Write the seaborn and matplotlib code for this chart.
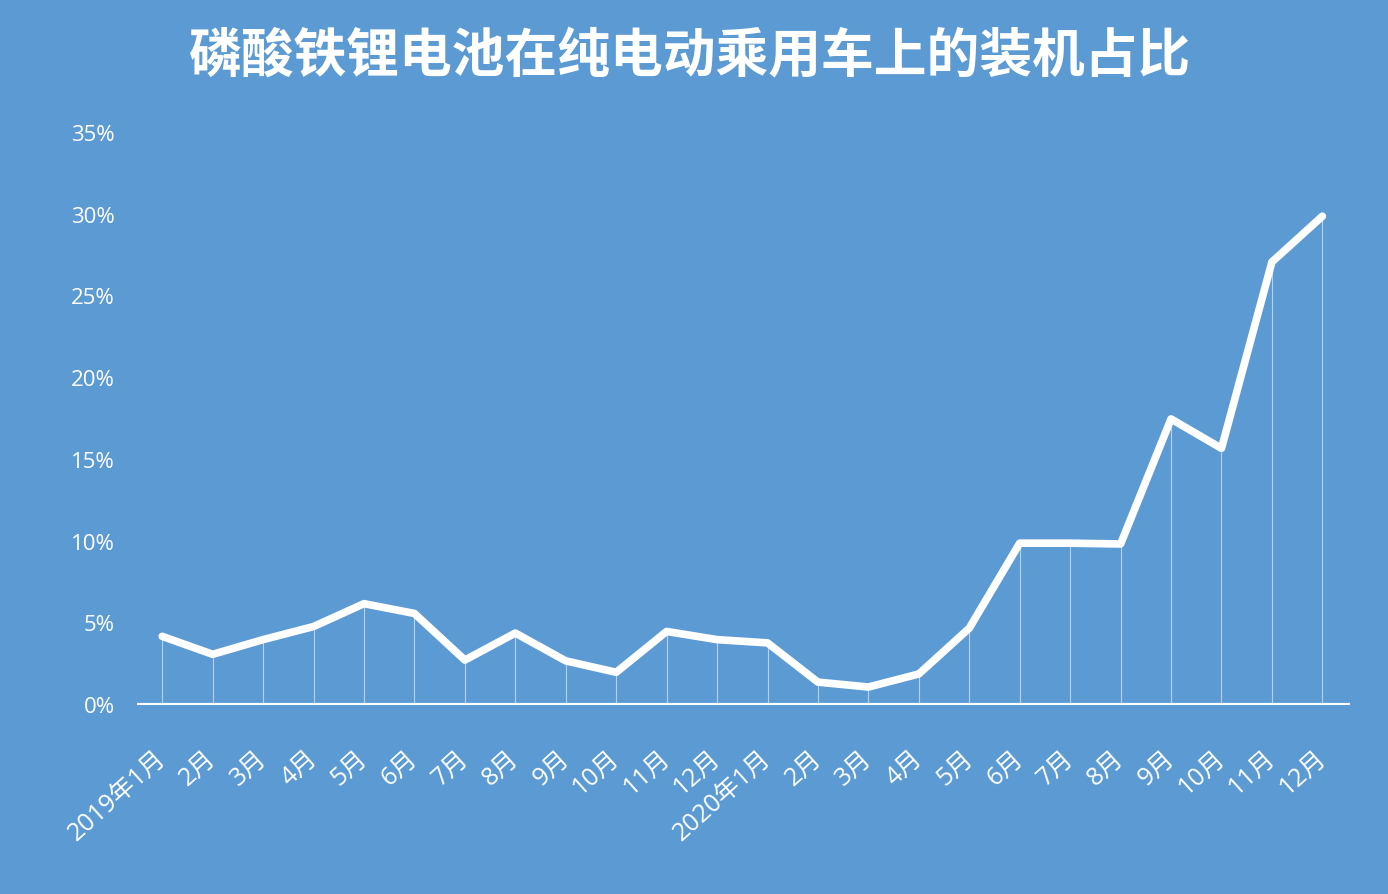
import numpy as np
import pandas as pd
import matplotlib
matplotlib.use('Agg')
import matplotlib.pyplot as plt
import seaborn as sns

# chart data
MONTH_LABELS = ['2019年1月', '2月', '3月', '4月', '5月', '6月', '7月', '8月', '9月', '10月', '11月', '12月',
                '2020年1月', '2月', '3月', '4月', '5月', '6月', '7月', '8月', '9月', '10月', '11月', '12月']
LFP_SHARE = [4.2, 3.1, 4.0, 4.8, 6.2, 5.6, 2.75, 4.4, 2.7, 2.0, 4.5, 4.0,
             3.8, 1.4, 1.1, 1.9, 4.7, 9.9, 9.9, 9.85, 17.5, 15.7, 27.1, 29.9]
Y_TICKS = [0, 5, 10, 15, 20, 25, 30, 35]

TITLE_TEXT = '磷酸铁锂电池在纯电动乘用车上的装机占比'
BG_COLOR = '#5b9ad3'
FG_COLOR = 'white'
TICK_FAMILY = ['Open Sans', 'Noto Sans CJK SC']

sns.set_theme(style='white')
plt.rcParams['font.family'] = ['Noto Sans CJK SC', 'DejaVu Sans']

data = pd.DataFrame({'idx': np.arange(len(LFP_SHARE)), 'share': LFP_SHARE})

fig = plt.figure(figsize=(13.88, 8.94), dpi=100, facecolor=BG_COLOR)
ax = fig.add_axes([0.0987, 0.2114, 0.874, 0.640])
ax.set_facecolor(BG_COLOR)

# thin drop lines from each point to the baseline
ax.vlines(data['idx'], 0, data['share'], color=FG_COLOR, lw=0.8, alpha=0.55, zorder=1)
sns.lineplot(data=data, x='idx', y='share', ax=ax, color=FG_COLOR, lw=5.5,
             solid_capstyle='round', solid_joinstyle='round', zorder=3)
ax.axhline(0, color=FG_COLOR, lw=3, zorder=2)

ax.set_xlim(-0.5, len(LFP_SHARE) - 0.45)
ax.set_ylim(0, 35)
ax.set_yticks(Y_TICKS)
ax.set_yticklabels([f'{v}%' for v in Y_TICKS], color=FG_COLOR, fontsize=16,
                   family=TICK_FAMILY)
ax.set_xticks(data['idx'])
ax.set_xticklabels(MONTH_LABELS, color=FG_COLOR, fontsize=18, rotation=42,
                   ha='right', va='center', rotation_mode='anchor', family=TICK_FAMILY)
ax.tick_params(axis='y', length=0, pad=16)
ax.tick_params(axis='x', length=0, pad=36)
ax.set_xlabel('')
ax.set_ylabel('')
for s in ax.spines.values():
    s.set_visible(False)

fig.text(0.497, 0.936, TITLE_TEXT, ha='center', va='center', color=FG_COLOR,
         fontsize=38, fontweight='bold')

fig.savefig('out.png', dpi=100, facecolor=BG_COLOR)
